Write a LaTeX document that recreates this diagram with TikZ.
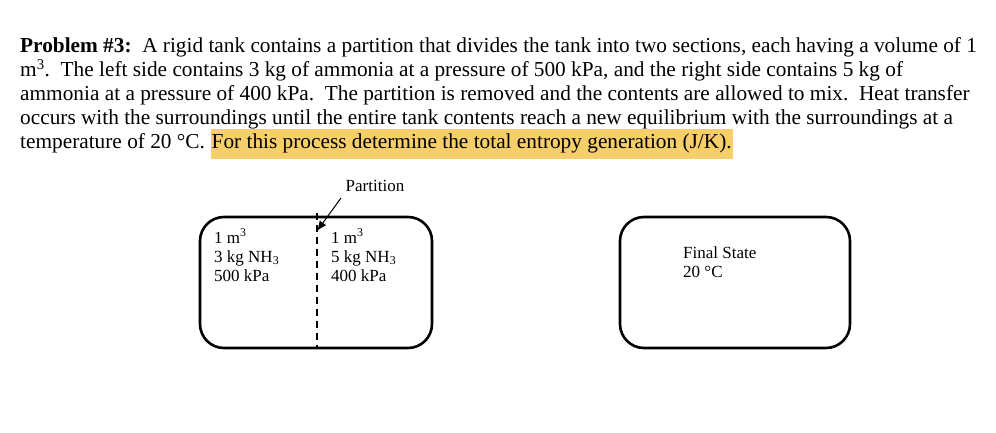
\documentclass[tikz,border=0pt]{standalone}
\usepackage{fontspec}
\usetikzlibrary{arrows.meta}
\setmainfont{Liberation Serif}
\definecolor{hl}{HTML}{F6CE6A}
\begin{document}
\begin{tikzpicture}[x=1pt,y=-1pt,
  para/.style={anchor=base west,inner sep=0pt,font=\fontsize{21.3}{24}\selectfont},
  small/.style={anchor=base west,inner sep=0pt,font=\fontsize{17}{19}\selectfont},
  tank/.style={draw,line width=2.6pt,rounded corners=24pt}]
\useasboundingbox (0,0) rectangle (996,433);
\node[para] (l1) at (20,53) {\textbf{Problem \#3:}\ \ A rigid tank contains a partition that divides the tank into two sections, each having a volume of 1};
\node[para] (l2) at (20,77) {m\textsuperscript{3}.\ \ The left side contains 3 kg of ammonia at a pressure of 500 kPa, and the right side contains 5 kg of};
\node[para] (l3) at (20,101) {ammonia at a pressure of 400 kPa.\ \ The partition is removed and the contents are allowed to mix.\ \ Heat transfer};
\node[para] (l4) at (20,125) {occurs with the surroundings until the entire tank contents reach a new equilibrium with the surroundings at a};
\node[para] (l5a) at (20,149) {temperature of 20 °C.\ \ };
\node[para,fill=hl,inner xsep=1pt,inner ysep=5pt] (l5b) at (l5a.base east) {For this process determine the total entropy generation (J/K).};
\draw[tank] (200,217) rectangle (432,348);
\draw[tank] (620,217) rectangle (850,348);
\coordinate (pt) at (317,213);
\coordinate (pb) at (317,348);
\draw[line width=2.4pt,dash pattern=on 7pt off 5pt] (pt) -- (pb);
\node[anchor=base,inner sep=2pt,font=\fontsize{17}{19}\selectfont] (plab) at (375,191) {Partition};
\coordinate (as) at (341,198);
\coordinate (ae) at (317,231);
\draw[-{Latex[length=10pt,width=8pt]},line width=1pt] (as) -- (ae);
\node[small] (lt1) at (214,243) {1 m\textsuperscript{3}};
\node[small] (lt2) at (214,262) {3 kg NH\textsubscript{3}};
\node[small] (lt3) at (214,281) {500 kPa};
\node[small] (rt1) at (331,243) {1 m\textsuperscript{3}};
\node[small] (rt2) at (331,262) {5 kg NH\textsubscript{3}};
\node[small] (rt3) at (331,281) {400 kPa};
\node[small] (fs1) at (683,258) {Final State};
\node[small] (fs2) at (683,277) {20 °C};
\end{tikzpicture}
\end{document}
